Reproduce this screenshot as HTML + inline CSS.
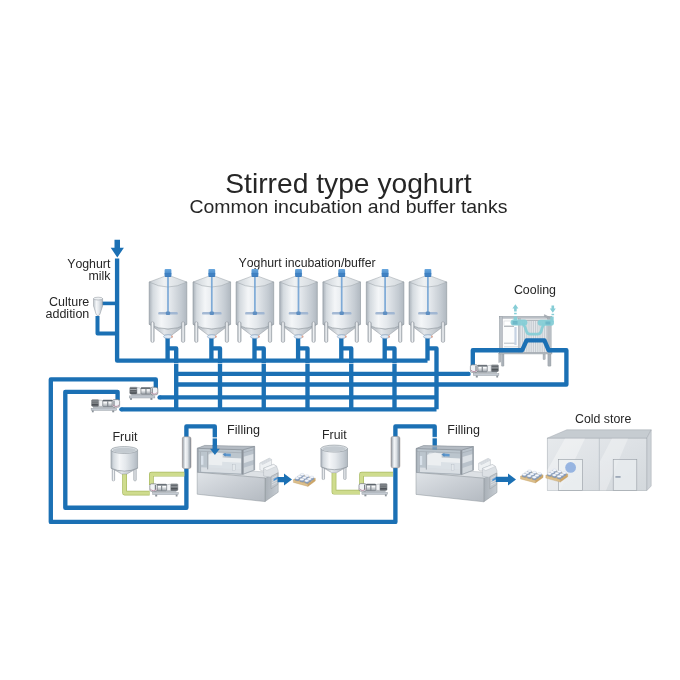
<!DOCTYPE html>
<html><head><meta charset="utf-8"><title>Stirred type yoghurt</title>
<style>
html,body{margin:0;padding:0;background:#fff;}
body{width:680px;height:680px;overflow:hidden;position:relative;font-family:"Liberation Sans",sans-serif;color:#222;}
svg{position:absolute;left:0;top:0;filter:blur(0.55px);}
svg text{font-family:"Liberation Sans",sans-serif;fill:#262626;font-kerning:none;}
</style></head><body>
<svg width="680" height="680" viewBox="0 0 680 680">
<defs>
<linearGradient id="gTank" x1="0" x2="1" y1="0" y2="0">
<stop offset="0" stop-color="#aab2ba"/><stop offset="0.10" stop-color="#d4dadf"/><stop offset="0.32" stop-color="#f4f6f8"/><stop offset="0.55" stop-color="#e4e8ec"/><stop offset="0.85" stop-color="#c4cbd2"/><stop offset="1" stop-color="#b0b8c0"/>
</linearGradient>
<linearGradient id="gTop" x1="0" x2="1" y1="0" y2="0">
<stop offset="0" stop-color="#c9cfd5"/><stop offset="0.4" stop-color="#eef1f3"/><stop offset="1" stop-color="#cfd5da"/>
</linearGradient>
<linearGradient id="gCone" x1="0" x2="1" y1="0" y2="0">
<stop offset="0" stop-color="#9aa2aa"/><stop offset="0.4" stop-color="#e2e6ea"/><stop offset="1" stop-color="#a4acb4"/>
</linearGradient>
<linearGradient id="gLeg" x1="0" x2="1" y1="0" y2="0">
<stop offset="0" stop-color="#a8afb6"/><stop offset="0.5" stop-color="#f2f4f6"/><stop offset="1" stop-color="#a8afb6"/>
</linearGradient>
<linearGradient id="gMix" x1="0" x2="1" y1="0" y2="0">
<stop offset="0" stop-color="#8d959e"/><stop offset="0.35" stop-color="#f4f6f8"/><stop offset="0.6" stop-color="#dfe3e7"/><stop offset="1" stop-color="#7f8a96"/>
</linearGradient>
<linearGradient id="gMotor" x1="0" x2="0" y1="0" y2="1">
<stop offset="0" stop-color="#6aa8de"/><stop offset="0.6" stop-color="#4a8ccc"/><stop offset="1" stop-color="#3a78b8"/>
</linearGradient>
<linearGradient id="gPumpBody" x1="0" x2="0" y1="0" y2="1">
<stop offset="0" stop-color="#b9bfc5"/><stop offset="0.35" stop-color="#fafbfc"/><stop offset="1" stop-color="#9aa1a8"/>
</linearGradient>
<linearGradient id="gPumpMotor" x1="0" x2="0" y1="0" y2="1">
<stop offset="0" stop-color="#8a8f95"/><stop offset="0.35" stop-color="#c8ccd0"/><stop offset="1" stop-color="#4b5056"/>
</linearGradient>
<linearGradient id="gMach" x1="0" x2="1" y1="0" y2="1">
<stop offset="0" stop-color="#dfe3e7"/><stop offset="0.5" stop-color="#c9ced4"/><stop offset="1" stop-color="#b4bac1"/>
</linearGradient>
<linearGradient id="gMachSide" x1="0" x2="1" y1="0" y2="0">
<stop offset="0" stop-color="#a9b0b7"/><stop offset="1" stop-color="#c6ccd2"/>
</linearGradient>
<linearGradient id="gStore" x1="0" x2="1" y1="0" y2="1">
<stop offset="0" stop-color="#e6e9ec"/><stop offset="0.5" stop-color="#dde1e5"/><stop offset="1" stop-color="#d3d8dc"/>
</linearGradient>

<!-- incubation tank, origin = centre x, absolute y -->
<g id="tank">
  <!-- bottom cone -->
  <path d="M-18.6,324 Q0,334 18.6,324 L3.6,335.2 L-3.6,335.2 Z" fill="url(#gCone)" stroke="#8e959c" stroke-width="0.5"/>
  <!-- body -->
  <path d="M-18.8,282 L-18.8,324.4 Q0,333.5 18.8,324.4 L18.8,282 Z" fill="url(#gTank)" stroke="#8c939a" stroke-width="0.6"/>
  <!-- top cone -->
  <path d="M-18.8,282 L-3.6,276.4 L3.6,276.4 L18.8,282 Q0,292 -18.8,282 Z" fill="url(#gTop)" stroke="#979ea5" stroke-width="0.5"/>
  <!-- legs -->
  <rect x="-17.2" y="321.8" width="3.4" height="20.6" rx="1.6" fill="url(#gLeg)" stroke="#8e959c" stroke-width="0.5"/>
  <rect x="13.4" y="321.8" width="3.4" height="20.6" rx="1.6" fill="url(#gLeg)" stroke="#8e959c" stroke-width="0.5"/>
  <!-- shaft -->
  <rect x="-0.85" y="276.5" width="1.7" height="37" fill="#6b9fd2" fill-opacity="0.85"/>
  <!-- agitator -->
  <rect x="-9.8" y="312" width="19.6" height="2.6" rx="1.2" fill="#9bb2d0" fill-opacity="0.9"/>
  <rect x="-2.2" y="311.5" width="4.4" height="3.5" rx="1.2" fill="#5f8fc2"/>
  <!-- motor -->
  <rect x="-3.4" y="269" width="6.8" height="8" rx="1" fill="url(#gMotor)"/>
  <rect x="-3.6" y="273.2" width="7.2" height="1.2" fill="#2f6fb0" fill-opacity="0.55"/>
  <!-- valve -->
  <ellipse cx="0" cy="336.6" rx="4.4" ry="1.9" fill="#dfe9f3" stroke="#7c9cc0" stroke-width="0.6"/>
  <rect x="3.2" y="335.6" width="1.6" height="2" fill="#e8a58c"/>
</g>

<!-- pump: origin top-left, size 29.5 x 13.6 ; motor at left, head at right -->
<g id="pump">
  <rect x="0.1" y="9.5" width="25.6" height="2.1" fill="#c3cad2" stroke="#8a9198" stroke-width="0.4"/>
  <rect x="0.9" y="11.6" width="1.8" height="1.9" fill="#8b9299"/>
  <rect x="21.2" y="11.6" width="2" height="1.9" fill="#8b9299"/>
  <rect x="2" y="7.4" width="22" height="2.1" fill="#b4bac0"/>
  <rect x="0.6" y="0.9" width="7.2" height="6.6" rx="0.8" fill="url(#gPumpMotor)" stroke="#4f555b" stroke-width="0.45"/>
  <path d="M0.9,2.3H7.5M0.9,4.0H7.5M0.9,5.6H7.5" stroke="#3a3f44" stroke-width="0.8"/>
  <path d="M7.8,1.2 Q11.6,1.4 11.8,2.2 L11.8,7.2 Q11.6,7.8 7.8,7.6 Z" fill="#f2f4f6" stroke="#7d848b" stroke-width="0.4"/>
  <rect x="11.8" y="1.2" width="9.6" height="6.6" rx="0.8" fill="url(#gPumpBody)" stroke="#60676e" stroke-width="0.5"/>
  <rect x="11.8" y="1.2" width="9.6" height="1.3" fill="#5d646b"/>
  <rect x="16.2" y="2.5" width="1.1" height="5.2" fill="#7a8188"/>
  <rect x="21.2" y="0.8" width="7.4" height="7.6" rx="1.8" fill="#f1f3f6" stroke="#5f666d" stroke-width="0.6"/>
  <rect x="22.4" y="1.8" width="1.2" height="5.4" fill="#7a8188"/>
  <path d="M21.8,6 Q25,9.4 28.2,6" fill="none" stroke="#b78aa0" stroke-width="0.9"/>
</g>

<!-- fruit tank: origin centre x, top y=0 -->
<g id="fruit">
  <rect x="-12.2" y="20.6" width="2.6" height="14" rx="1.2" fill="url(#gLeg)" stroke="#8e959c" stroke-width="0.4"/>
  <rect x="9.4" y="20.6" width="2.6" height="14" rx="1.2" fill="url(#gLeg)" stroke="#8e959c" stroke-width="0.4"/>
  <path d="M-13.2,21.5 Q0,27 13.2,21.5 L2.6,27.6 L-2.6,27.6 Z" fill="url(#gCone)" stroke="#8e959c" stroke-width="0.5"/>
  <path d="M-13.3,3.6 L-13.3,21.8 Q0,27.6 13.3,21.8 L13.3,3.6 Z" fill="url(#gTank)" stroke="#8c939a" stroke-width="0.6"/>
  <ellipse cx="0" cy="3.6" rx="13.3" ry="3.5" fill="#dde2e6" stroke="#8c939a" stroke-width="0.6"/>
  <ellipse cx="0" cy="3.9" rx="11.6" ry="2.6" fill="#c3cad0"/>
</g>

<!-- tray of cups: origin top-left, 22.4 x 13.6 -->
<g id="tray">
  <path d="M0.5,7.2 L8.1,1.9 L22.4,5.8 L15,11.2 Z" fill="#c9b183" stroke="#b9935a" stroke-width="0.3"/>
  <path d="M7.15,1.85 v2.2 a2.1,1.15 0 0 0 4.2,0 v-2.2z" fill="#8499b8"/><ellipse cx="9.25" cy="1.85" rx="2.1" ry="1.15" fill="#f7f9fc" stroke="#b3c2d8" stroke-width="0.3"/><path d="M11.98,3.18 v2.2 a2.1,1.15 0 0 0 4.2,0 v-2.2z" fill="#8499b8"/><ellipse cx="14.08" cy="3.18" rx="2.1" ry="1.15" fill="#f7f9fc" stroke="#b3c2d8" stroke-width="0.3"/><path d="M16.82,4.52 v2.2 a2.1,1.15 0 0 0 4.2,0 v-2.2z" fill="#8499b8"/><ellipse cx="18.92" cy="4.52" rx="2.1" ry="1.15" fill="#f7f9fc" stroke="#b3c2d8" stroke-width="0.3"/><path d="M4.62,3.62 v2.2 a2.1,1.15 0 0 0 4.2,0 v-2.2z" fill="#8499b8"/><ellipse cx="6.72" cy="3.62" rx="2.1" ry="1.15" fill="#f7f9fc" stroke="#b3c2d8" stroke-width="0.3"/><path d="M9.45,4.95 v2.2 a2.1,1.15 0 0 0 4.2,0 v-2.2z" fill="#8499b8"/><ellipse cx="11.55" cy="4.95" rx="2.1" ry="1.15" fill="#f7f9fc" stroke="#b3c2d8" stroke-width="0.3"/><path d="M14.28,6.28 v2.2 a2.1,1.15 0 0 0 4.2,0 v-2.2z" fill="#8499b8"/><ellipse cx="16.38" cy="6.28" rx="2.1" ry="1.15" fill="#f7f9fc" stroke="#b3c2d8" stroke-width="0.3"/><path d="M2.08,5.38 v2.2 a2.1,1.15 0 0 0 4.2,0 v-2.2z" fill="#8499b8"/><ellipse cx="4.18" cy="5.38" rx="2.1" ry="1.15" fill="#f7f9fc" stroke="#b3c2d8" stroke-width="0.3"/><path d="M6.92,6.72 v2.2 a2.1,1.15 0 0 0 4.2,0 v-2.2z" fill="#8499b8"/><ellipse cx="9.02" cy="6.72" rx="2.1" ry="1.15" fill="#f7f9fc" stroke="#b3c2d8" stroke-width="0.3"/><path d="M11.75,8.05 v2.2 a2.1,1.15 0 0 0 4.2,0 v-2.2z" fill="#8499b8"/><ellipse cx="13.85" cy="8.05" rx="2.1" ry="1.15" fill="#f7f9fc" stroke="#b3c2d8" stroke-width="0.3"/>
  <path d="M0.5,7.2 L15,11.2 L15,13.7 L0.5,9.7 Z" fill="#dcbf8b" stroke="#c09a5e" stroke-width="0.3"/>
  <path d="M15,11.2 L22.4,5.8 L22.4,8.3 L15,13.7 Z" fill="#cda668" stroke="#c09a5e" stroke-width="0.3"/>
</g>

<!-- filling machine: origin = left x, top y (197.2,445.4) -->
<g id="filler">
  <!-- lower body right side -->
  <path d="M67.8,32.2 L81,27 L81,46.4 L67.8,55.8 Z" fill="url(#gMachSide)" stroke="#8d949b" stroke-width="0.5"/>
  <!-- top of lower body -->
  <path d="M0,26.4 L12,22.6 L81,27 L67.8,32.2 Z" fill="#dde1e5" stroke="#9aa1a8" stroke-width="0.4"/>
  <!-- lower body front -->
  <path d="M0,26.4 L67.8,32.2 L67.8,55.8 L0,48.4 Z" fill="url(#gMach)" stroke="#8d949b" stroke-width="0.5"/>
  <!-- cabinet back/inside -->
  <path d="M0,2.5 L7.5,-0.4 L57.5,0.6 L57.5,24.2 L45.7,28.6 L0,26.4 Z" fill="#c1c9d1"/>
  <path d="M46.4,11 L57,8 L57,14 L46.4,17.4 Z" fill="#f1f4f6"/>
  <path d="M46.4,22 L57,18.6 L57,23.8 L46.4,27.8 Z" fill="#e3e7ea"/>
  <!-- inner machinery (whitish) -->
  <path d="M11,9 L14,6.6 L26,7 L26,12 L44,13 L44,24 L11,22.6 Z" fill="#e9edf1"/>
  <path d="M11.6,9 L19,6.4 L25,8 L25,19.8 L11.6,19 Z" fill="#ffffff"/>
  <path d="M4,21.4 L44,23.4 L44,27.8 L4,26 Z" fill="#e7eaee"/>
  <path d="M24,11.6 L44,12.6 L44,17 L24,16 Z" fill="#ffffff"/>
  <rect x="35.4" y="18.4" width="2.6" height="6.4" fill="#f4f6f8" stroke="#aab1b8" stroke-width="0.3"/>
  <rect x="3.6" y="10" width="2.6" height="9" fill="#e6eef6"/>
  <path d="M27,7.6 l6.6,0.4 l0,2.6 l-6.6,-0.4z" fill="#4a90d2"/>
  <path d="M25.4,8.4 l3,-1.2 l0.2,3.6z" fill="#3a80c4"/>
  <!-- glass tint -->
  <path d="M0,2.5 L45.7,4 L45.7,28.6 L0,26.4 Z" fill="#aab4be" fill-opacity="0.22" stroke="#8b929a" stroke-width="0.5"/>
  <path d="M45.7,4 L57.5,0.6 L57.5,24.2 L45.7,28.6 Z" fill="#aab3bc" fill-opacity="0.30" stroke="#8b929a" stroke-width="0.5"/>
  <!-- cabinet top -->
  <path d="M0,2.5 L7.5,-0.4 L57.5,0.6 L45.7,4 Z" fill="#b4bbc3" stroke="#7f868e" stroke-width="0.5"/>
  <path d="M0,5.4 L45.7,7 L57.5,3.6" fill="none" stroke="#98a0a8" stroke-width="0.5"/>
  <!-- posts -->
  <rect x="0" y="2.6" width="1.4" height="23.8" fill="#98a0a8"/>
  <rect x="2.6" y="6" width="1.0" height="20" fill="#a7aeb6"/>
  <rect x="9.8" y="5.6" width="1.2" height="18" fill="#a7aeb6"/>
  <rect x="44.3" y="4.2" width="1.8" height="24.2" fill="#8a9199"/>
  <rect x="56.3" y="1" width="1.2" height="23.2" fill="#98a0a8"/>
  <!-- out-feed conveyor -->
  <path d="M62.6,17.2 L72,12.4 L74.4,13.6 L74.4,21 L65,25.2 L62.6,24 Z" fill="#eef1f3" stroke="#a2a9b0" stroke-width="0.4"/>
  <path d="M63.4,17.6 l9.2,-4.6 M64.2,18.2 l9.2,-4.6 M65,18.8 l9.2,-4.6" stroke="#b8bfc6" stroke-width="0.45"/>
  <path d="M66.4,22.4 L76.4,18.6 L79.4,20.4 L81,25 L81,27 L74,31.4 L66.4,30.2 Z" fill="#dde1e5" stroke="#a2a9b0" stroke-width="0.4"/>
  <path d="M66.4,22.4 L76.4,18.6 L79.4,20.4 L69.6,24.6 Z" fill="#f4f6f8" stroke="#a2a9b0" stroke-width="0.3"/>
  <path d="M73.8,30.6 L80.6,27 L80.6,38.6 L73.8,43 Z" fill="#bfc5cb" stroke="#8d949b" stroke-width="0.4"/>
  <path d="M74.6,32.6 l5.4,-2.8 M74.6,34.8 l5.4,-2.8 M74.6,37 l5.4,-2.8 M74.6,39.2 l5.4,-2.8" stroke="#e6e9ec" stroke-width="0.6"/>
  <path d="M76.4,33.2 l4.2,-2.2 l0,2 l-4.2,2.2z" fill="#4a90d2"/>
</g>
</defs>

<text x="225.3" y="193.2" font-size="27.6" textLength="246.2" lengthAdjust="spacingAndGlyphs">Stirred type yoghurt</text>
<text x="189.4" y="213" font-size="18.2" textLength="318" lengthAdjust="spacingAndGlyphs">Common incubation and buffer tanks</text>
<text x="110.4" y="268.2" font-size="12.35" text-anchor="end">Yoghurt</text>
<text x="110.4" y="280.2" font-size="12.35" text-anchor="end">milk</text>
<text x="89.3" y="305.8" font-size="12.5" text-anchor="end">Culture</text>
<text x="89.3" y="318.4" font-size="12.5" text-anchor="end">addition</text>
<text x="238.6" y="267.1" font-size="12.28">Yoghurt incubation/buffer</text>
<text x="513.9" y="293.6" font-size="12.42">Cooling</text>
<text x="112.4" y="440.7" font-size="12.5">Fruit</text>
<text x="322.1" y="439.2" font-size="12.3">Fruit</text>
<text x="227.1" y="433.5" font-size="12.6">Filling</text>
<text x="447.3" y="433.7" font-size="12.55">Filling</text>
<text x="575.0" y="423.3" font-size="12.35">Cold store</text>
<g id="cooler">
  <!-- legs -->
  <rect x="498.8" y="353.2" width="2.0" height="9" fill="#b3b9bf" stroke="#8a9198" stroke-width="0.3"/>
  <rect x="501.4" y="353.2" width="2.6" height="13" rx="0.6" fill="#aab1b8" stroke="#858c93" stroke-width="0.3"/>
  <rect x="543.0" y="353.2" width="2.2" height="6.4" fill="#b3b9bf" stroke="#8a9198" stroke-width="0.3"/>
  <rect x="547.8" y="353.2" width="3.2" height="13" rx="0.6" fill="#aab1b8" stroke="#858c93" stroke-width="0.3"/>
  <!-- frame -->
  <rect x="499.2" y="316.2" width="52.8" height="37.4" fill="#fbfcfc"/>
  <rect x="499.2" y="316.2" width="52.8" height="2.0" fill="#b9bfc5" stroke="#8d949b" stroke-width="0.35"/>
  <rect x="499.2" y="316.2" width="3.4" height="37.4" fill="#bcc2c8" stroke="#8d949b" stroke-width="0.35"/>
  <path d="M544.4,314.6 L552.4,318.6 L552.4,320 L544.4,316.4 Z" fill="#aab1b8" stroke="#858c93" stroke-width="0.3"/>
  <!-- inner left details -->
  <rect x="504" y="321" width="9.4" height="4.2" fill="#ffffff" stroke="#c3c8cd" stroke-width="0.4"/>
  <path d="M504,326.4 H514" stroke="#9aa1a8" stroke-width="0.8"/>
  <path d="M504,343.2 H516" stroke="#aeb5bc" stroke-width="0.9"/>
  <path d="M504,346.8 H518" stroke="#c3c8cd" stroke-width="0.7"/>
  <rect x="514.4" y="327" width="2.2" height="18" fill="#c6d3e3"/>
  <rect x="518.2" y="318.2" width="2.4" height="35" fill="#c3c9cf" stroke="#9299a0" stroke-width="0.3"/>
  <!-- plate pack -->
  <rect x="520.6" y="320.4" width="27" height="32.4" fill="#e3e7ea"/>
  <path d="M522.4,320.4V352.8M524.6,320.4V352.8M526.8,320.4V352.8M529,320.4V352.8M531.2,320.4V352.8M533.4,320.4V352.8M535.6,320.4V352.8M537.8,320.4V352.8M540,320.4V352.8M542.2,320.4V352.8M544.4,320.4V352.8M546.4,320.4V352.8" stroke="#b9c0c7" stroke-width="0.75"/>
  <rect x="520.6" y="319.6" width="27" height="1.4" fill="#b3b9bf"/>
  <rect x="547.6" y="318.2" width="3.6" height="35" fill="#b9bfc5" stroke="#8d949b" stroke-width="0.3"/>
  <rect x="499.2" y="352.2" width="52.8" height="1.8" fill="#b5bbc1" stroke="#8d949b" stroke-width="0.35"/>
  <!-- cyan cooling medium -->
  <g fill="none" stroke="#86cdd6" stroke-linejoin="round" stroke-linecap="round" stroke-opacity="0.95">
   <path d="M515.4,316.4 V322" stroke-width="3.6" stroke-linecap="butt"/>
   <path d="M513.6,322.6 H524.4" stroke-width="6"/>
   <path d="M540.6,322.8 H551" stroke-width="6"/>
   <path d="M552,316.6 V322" stroke-width="3.4" stroke-linecap="butt"/>
   <path d="M523.6,324.4 Q525.4,327.4 526.4,331.2 Q527.2,334.2 530,334.2 H537.6 Q540.4,334.2 541.2,331.2 Q542,327.4 543.6,324.6" stroke-width="2.8"/>
  </g>
  <path d="M512.6,321 h5 v3.4 h-5z M545.4,321.4 h5 v3.2 h-5z" fill="#5aa6bd" fill-opacity="0.55"/>
  <path d="M515.4,304.2 l3,4.2 h-1.7 v3.2 h-2.6 v-3.2 h-1.7z" fill="#86cdd6"/>
  <rect x="514.1" y="312.8" width="2.6" height="1.5" fill="#86cdd6"/>
  <path d="M552.8,312.8 l3,-4.2 h-1.7 v-3.2 h-2.6 v3.2 h-1.7z" fill="#86cdd6"/>
  <rect x="551.5" y="313.8" width="2.6" height="1.4" fill="#86cdd6"/>
</g>
<g id="pipes" stroke-linecap="butt">
<path d="M114.5,239.8 H120 V247.8 H123.9 L117.3,257.6 L110.7,247.8 H114.5 Z" fill="#1b70b4"/>
<path d="M117.1,258.4 V360.6 H427.5" fill="none" stroke="#1b70b4" stroke-width="4.35" stroke-linejoin="round" />
<path d="M102,303.4 H117.1" fill="none" stroke="#1b70b4" stroke-width="3.6" stroke-linejoin="round" />
<path d="M97.5,316 V333.6 H117.1" fill="none" stroke="#1b70b4" stroke-width="4.0" stroke-linejoin="round" />
<path d="M167.6,338 V360.6" fill="none" stroke="#1b70b4" stroke-width="4.35" stroke-linejoin="round" />
<path d="M167.6,348.4 H176.2 V409.3" fill="none" stroke="#1b70b4" stroke-width="4.35" stroke-linejoin="round" />
<path d="M211.4,338 V360.6" fill="none" stroke="#1b70b4" stroke-width="4.35" stroke-linejoin="round" />
<path d="M211.4,348.4 H220.0 V409.3" fill="none" stroke="#1b70b4" stroke-width="4.35" stroke-linejoin="round" />
<path d="M254.5,338 V360.6" fill="none" stroke="#1b70b4" stroke-width="4.35" stroke-linejoin="round" />
<path d="M254.5,348.4 H263.75 V409.3" fill="none" stroke="#1b70b4" stroke-width="4.35" stroke-linejoin="round" />
<path d="M298.1,338 V360.6" fill="none" stroke="#1b70b4" stroke-width="4.35" stroke-linejoin="round" />
<path d="M298.1,348.4 H307.5 V409.3" fill="none" stroke="#1b70b4" stroke-width="4.35" stroke-linejoin="round" />
<path d="M341.3,338 V360.6" fill="none" stroke="#1b70b4" stroke-width="4.35" stroke-linejoin="round" />
<path d="M341.3,348.4 H351.25 V409.3" fill="none" stroke="#1b70b4" stroke-width="4.35" stroke-linejoin="round" />
<path d="M384.7,338 V360.6" fill="none" stroke="#1b70b4" stroke-width="4.35" stroke-linejoin="round" />
<path d="M384.7,348.4 H394.5 V409.3" fill="none" stroke="#1b70b4" stroke-width="4.35" stroke-linejoin="round" />
<path d="M427.5,338 V360.6" fill="none" stroke="#1b70b4" stroke-width="4.35" stroke-linejoin="round" />
<path d="M427.5,348.4 H436.5 V409.3" fill="none" stroke="#1b70b4" stroke-width="4.35" stroke-linejoin="round" />
<path d="M176.2,373.9 H468.6" fill="none" stroke="#1b70b4" stroke-width="4.35" stroke-linejoin="round" />
<circle cx="468.6" cy="373.9" r="2.175" fill="#1b70b4"/>
<path d="M176.2,384.5 H566.4 V350.2 H548.6 L544.4,340.4 H526.6 L522.2,350.2 H472.8 V365.4" fill="none" stroke="#1b70b4" stroke-width="4.35" stroke-linejoin="round" />
<path d="M159.6,397.4 H436.5" fill="none" stroke="#1b70b4" stroke-width="4.35" stroke-linejoin="round" />
<circle cx="159.6" cy="397.4" r="2.175" fill="#1b70b4"/>
<path d="M121.4,409.3 H436.5" fill="none" stroke="#1b70b4" stroke-width="4.35" stroke-linejoin="round" />
<circle cx="121.4" cy="409.3" r="2.175" fill="#1b70b4"/>
<rect x="173.6" y="363.1" width="5.2" height="0.9" fill="#fff" opacity="0.75"/>
<rect x="217.4" y="363.1" width="5.2" height="0.9" fill="#fff" opacity="0.75"/>
<rect x="261.15" y="363.1" width="5.2" height="0.9" fill="#fff" opacity="0.75"/>
<rect x="304.9" y="363.1" width="5.2" height="0.9" fill="#fff" opacity="0.75"/>
<rect x="348.65" y="363.1" width="5.2" height="0.9" fill="#fff" opacity="0.75"/>
<rect x="391.9" y="363.1" width="5.2" height="0.9" fill="#fff" opacity="0.75"/>
<path d="M155.8,388.6 V379.4 H50.8 V521.9 H395.4 V467.6" fill="none" stroke="#1b70b4" stroke-width="4.35" stroke-linejoin="round" />
<path d="M117.6,400 V391.8 H65.3 V507.7 H186.4 V468.3" fill="none" stroke="#1b70b4" stroke-width="4.35" stroke-linejoin="round" />
<path d="M186.4,437 V426.4 H214.8 V449.4" fill="none" stroke="#1b70b4" stroke-width="4.35" stroke-linejoin="round" />
<rect x="212" y="437.2" width="5.6" height="1.3" fill="#fff" opacity="0.85"/>
<path d="M395.4,437 V426.4 H434.7 V446.8" fill="none" stroke="#1b70b4" stroke-width="4.35" stroke-linejoin="round" />
<rect x="431.9" y="436.9" width="5.6" height="1.5" fill="#fff" opacity="0.85"/>
</g>
<path d="M124.6,473 V493.1 H149.6" fill="none" stroke="#a9bb62" stroke-width="4.8" stroke-linejoin="round"/>
<path d="M124.6,473 V493.1 H149.6" fill="none" stroke="#cfdc8e" stroke-width="3.4" stroke-linejoin="round"/>
<path d="M151.4,485 V474.2 H184.2" fill="none" stroke="#a9bb62" stroke-width="4.8" stroke-linejoin="round"/>
<path d="M151.4,485 V474.2 H184.2" fill="none" stroke="#cfdc8e" stroke-width="3.4" stroke-linejoin="round"/>
<path d="M334,473 V492.2 H360" fill="none" stroke="#a9bb62" stroke-width="4.8" stroke-linejoin="round"/>
<path d="M334,473 V492.2 H360" fill="none" stroke="#cfdc8e" stroke-width="3.4" stroke-linejoin="round"/>
<path d="M361.6,484.6 V474.2 H393" fill="none" stroke="#a9bb62" stroke-width="4.8" stroke-linejoin="round"/>
<path d="M361.6,484.6 V474.2 H393" fill="none" stroke="#cfdc8e" stroke-width="3.4" stroke-linejoin="round"/>
<use href="#tank" x="168.0" y="0"/>
<use href="#tank" x="211.8" y="0"/>
<use href="#tank" x="254.9" y="0"/>
<use href="#tank" x="298.5" y="0"/>
<use href="#tank" x="341.7" y="0"/>
<use href="#tank" x="385.09999999999997" y="0"/>
<use href="#tank" x="427.9" y="0"/>
<g id="culture">
  <path d="M93.6,298.6 L93.6,306 L96.2,314.6 Q98,317 99.8,314.6 L102.6,306 L102.6,298.6 Z" fill="url(#gTank)" stroke="#8c939a" stroke-width="0.5"/>
  <ellipse cx="98.1" cy="298.6" rx="4.5" ry="1.4" fill="#eef1f3" stroke="#8c939a" stroke-width="0.5"/>
</g>
<use href="#pump" x="129.2" y="386.4"/>
<use href="#pump" x="91" y="398.8"/>
<use href="#pump" transform="translate(499,364) scale(-1,1)"/>
<use href="#pump" transform="translate(178.4,483) scale(-1,1)"/>
<use href="#pump" transform="translate(387.6,482.8) scale(-1,1)"/>
<use href="#fruit" x="124.3" y="446.4"/>
<use href="#fruit" x="334.2" y="445"/>
<rect x="182.3" y="436.8" width="8.7" height="31.7" rx="1.8" fill="url(#gMix)" stroke="#9a8f8a" stroke-width="0.5"/>
<rect x="391" y="436.4" width="8.9" height="31.4" rx="1.8" fill="url(#gMix)" stroke="#9a8f8a" stroke-width="0.5"/>
<use href="#filler" x="197.2" y="445.8"/>
<use href="#filler" x="416" y="446"/>
<path d="M212.5,445 H217.1 V448.8 H219.8 L214.9,455 L210,448.8 H212.5 Z" fill="#1b70b4" fill-opacity="0.95"/>
<path d="M432.4,446.6 H437 V449.6 H432.4 Z" fill="#1b70b4" fill-opacity="0.35"/>
<path d="M277.6,477.0 H284 V473.6 L292,479.6 L284,485.6 V482.20000000000005 H277.6 Z" fill="#1b70b4"/>
<path d="M495.8,476.79999999999995 H508 V473.4 L516,479.4 L508,485.4 V482.0 H495.8 Z" fill="#1b70b4"/>
<use href="#tray" x="292.9" y="472.7"/>
<use href="#tray" transform="translate(520,469.2) scale(1.03,1)"/>
<g id="store">
  <path d="M547.2,438.2 L566.8,429.8 L651.2,429.8 L646.8,438.2 Z" fill="#c6ccd1" stroke="#a2a9b0" stroke-width="0.5"/>
  <path d="M646.8,438.2 L651.2,429.8 L651.2,486 L646.8,490.6 Z" fill="#cdd2d7" stroke="#a2a9b0" stroke-width="0.5"/>
  <rect x="547.2" y="438.2" width="99.6" height="52.4" fill="url(#gStore)" stroke="#a2a9b0" stroke-width="0.5"/>
  <path d="M565,438.4 L585,438.4 L560,490.4 L547.4,490.4 L547.4,470 Z" fill="#ffffff" fill-opacity="0.35"/>
  <path d="M612,438.4 L628,438.4 L606,490.4 L599.6,490.4 L599.6,462 Z" fill="#ffffff" fill-opacity="0.3"/>
  <path d="M599.3,438.2 V490.6" stroke="#aab1b8" stroke-width="0.6"/>
  <rect x="558.6" y="459.3" width="23.8" height="31.3" fill="#eef1f3" fill-opacity="0.75" stroke="#959ca3" stroke-width="0.6"/>
  <rect x="613.2" y="459.3" width="23.6" height="31.3" fill="#eaedf0" fill-opacity="0.75" stroke="#959ca3" stroke-width="0.6"/>
  <rect x="615.4" y="476.4" width="5.2" height="1.1" fill="#6f7f96"/>
  <ellipse cx="570.6" cy="467.4" rx="5.4" ry="5.3" fill="#8fb0e0" fill-opacity="0.92"/>
</g>
<use href="#tray" x="545.3" y="468.4"/>
</svg></body></html>
